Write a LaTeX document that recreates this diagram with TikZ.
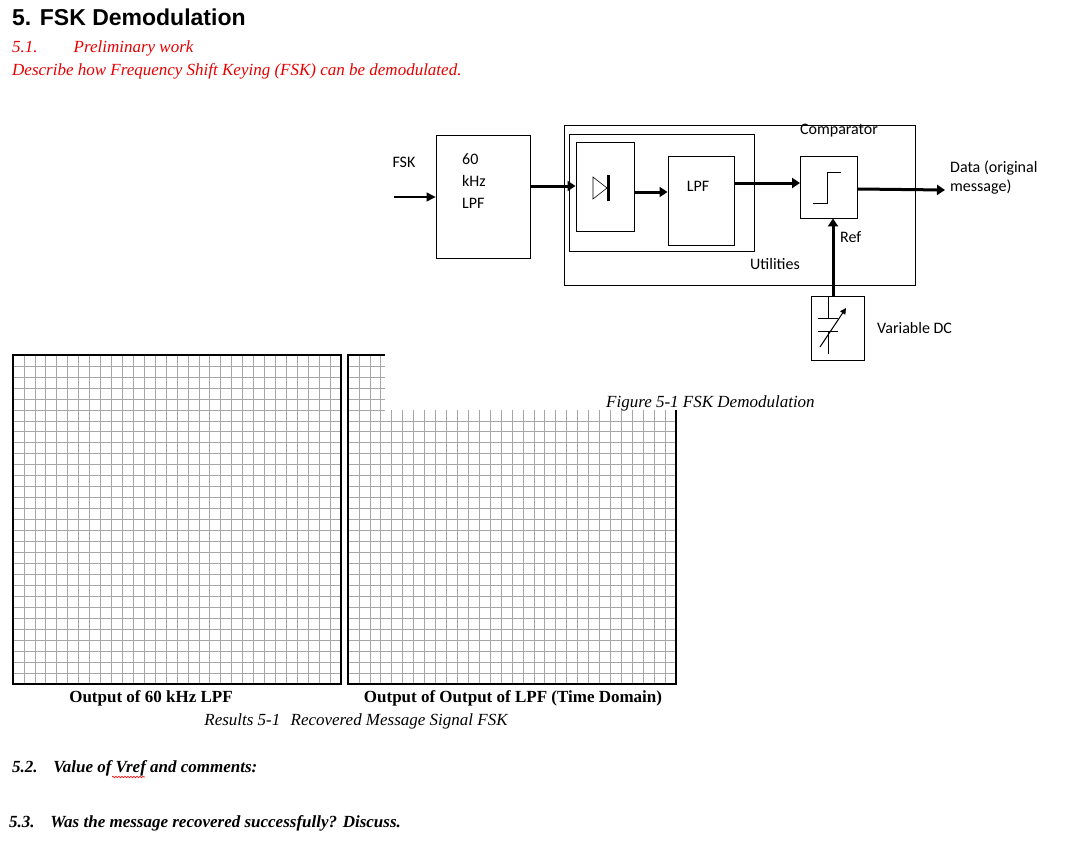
\documentclass[tikz,border=0pt]{standalone}
\usepackage{fontspec}
\setmainfont{Liberation Serif}
\newfontfamily\arialfont{Liberation Sans}
\newfontfamily\calfont{Carlito}
\usetikzlibrary{arrows.meta,decorations.pathmorphing}
\definecolor{docred}{RGB}{230,0,0}
\begin{document}
\begin{tikzpicture}[x=1pt,y=-1pt,
  blk/.style={draw,line width=0.9pt},
  lbl/.style={font=\calfont\fontsize{16}{19}\selectfont,inner sep=0pt},
  thick arr/.style={line width=3pt,-{Triangle[length=8pt,width=10pt]}},
  gridl/.style={draw=gray!70,line width=0.6pt}]
\useasboundingbox (0,0) rectangle (1086,864);
% headings
\node[anchor=west,font=\arialfont\bfseries\fontsize{23}{26}\selectfont,inner sep=0pt] (title) at (12,17) {5. FSK Demodulation};
\node[anchor=west,font=\itshape\fontsize{17}{20}\selectfont,text=docred,inner sep=0pt] (s51) at (12,48) {5.1.\hspace{36pt}Preliminary work};
\node[anchor=west,font=\itshape\fontsize{17}{20}\selectfont,text=docred,inner sep=0pt] (q51) at (12,71) {Describe how Frequency Shift Keying (FSK) can be demodulated.};
% block diagram
\node[blk,minimum width=94pt,minimum height=123pt] (lpf60) at (483,197) {};
\node[lbl,anchor=north west] (lpf60t) at (462,151) {\begin{tabular}{@{}l@{}}60\\[3pt]kHz\\[3pt]LPF\end{tabular}};
\node[blk,minimum width=351pt,minimum height=160pt] (util) at (740,205) {};
\node[blk,minimum width=185pt,minimum height=117pt] (inner) at (662,193) {};
\node[blk,minimum width=58pt,minimum height=89pt] (diode) at (605,187) {};
\node[blk,minimum width=66pt,minimum height=89pt] (lpf) at (701,201) {};
\node[lbl] (lpft) at (698,186) {LPF};
\node[blk,minimum width=57pt,minimum height=62pt] (comp) at (829,187) {};
\node[blk,minimum width=53pt,minimum height=64pt] (vdc) at (838,328) {};
\node[lbl] (fsk) at (404,162) {FSK};
\coordinate (fskin) at (394,197);
\node[lbl] (compt) at (839,131) {Comparator};
\node[lbl] (utilt) at (775,264) {Utilities};
\node[lbl,anchor=west] (reft) at (840,237) {Ref};
\node[lbl,anchor=west] (vdct) at (877,328) {Variable DC};
\node[lbl,anchor=north west,align=left] (data) at (950,161) {Data (original\\message)};
\coordinate (dataend) at (945,190);
% diode symbol
\draw[line width=0.6pt] (593,177) -- (593,199) -- (607,188) -- cycle;
\draw[line width=3pt] (608,175) -- (608,201);
% step symbol
\draw[line width=1pt] (813,203) -- (827,203) -- (827,172) -- (841,172);
% variable source
\draw[line width=1pt] (828,297) -- (828,318) (818,318) -- (838,318) (818,331) -- (838,331) (828,331) -- (828,354);
\draw[line width=1pt,-{Triangle[length=6pt,width=6pt]}] (820,347) -- (846,308);
% connectors
\draw[line width=1.2pt,-{Triangle[length=9pt,width=9pt]}] (fskin) -- (lpf60.west|-fskin);
\draw[thick arr] (lpf60.east|-0,186) -- (diode.west|-0,186);
\draw[thick arr] (diode.east|-0,192) -- (lpf.west|-0,192);
\draw[thick arr] (lpf.east|-0,183) -- (comp.west|-0,183);
\draw[thick arr] (comp.east|-0,189) -- (dataend);
\draw[thick arr] (vdc.north-|833,0) -- (comp.south-|833,0);
% figure caption
\node[anchor=west,font=\itshape\fontsize{17}{20}\selectfont,inner sep=0pt] (figcap) at (606,403) {Figure 5-1 FSK Demodulation};
% grids
\foreach \i in {1,...,29}{
  \draw[gridl] (13+\i*10.93,355) -- (13+\i*10.93,684);
  \draw[gridl] (13,355+\i*10.97) -- (341,355+\i*10.97);
}
\draw[line width=2pt] (13,355) rectangle (341,684);
\foreach \i in {1,...,29}{
  \pgfmathsetmacro{\xx}{348+\i*10.93}
  \pgfmathsetmacro{\yy}{355+\i*10.97}
  \ifdim\xx pt<385pt
    \draw[gridl] (\xx,355) -- (\xx,684);
  \else
    \draw[gridl] (\xx,410) -- (\xx,684);
  \fi
  \ifdim\yy pt<410pt
    \draw[gridl] (348,\yy) -- (385,\yy);
  \else
    \draw[gridl] (348,\yy) -- (676,\yy);
  \fi
}
\draw[line width=2pt] (385,355) -- (348,355) -- (348,684) -- (676,684) -- (676,410);
\node[font=\bfseries\fontsize{17}{20}\selectfont,inner sep=0pt] (g1) at (151,698) {Output of 60 kHz LPF};
\node[font=\bfseries\fontsize{17}{20}\selectfont,inner sep=0pt] (g2) at (513,698) {Output of Output of LPF (Time Domain)};
\node[font=\itshape\fontsize{17}{20}\selectfont,inner sep=0pt] (res) at (356,721) {Results 5-1\hspace{6pt} Recovered Message Signal FSK};
\node[anchor=west,font=\bfseries\itshape\fontsize{17}{20}\selectfont,inner sep=0pt] (s52) at (12,768) {5.2.\hspace{10pt} Value of Vref and comments:};
\draw[red,line width=0.6pt,decorate,decoration={snake,amplitude=0.8pt,segment length=3pt}] (112,777) -- (145,777);
\node[anchor=west,font=\bfseries\itshape\fontsize{17}{20}\selectfont,inner sep=0pt] (s53) at (9,823) {5.3.\hspace{10pt} Was the message recovered successfully? Discuss.};
\end{tikzpicture}
\end{document}
